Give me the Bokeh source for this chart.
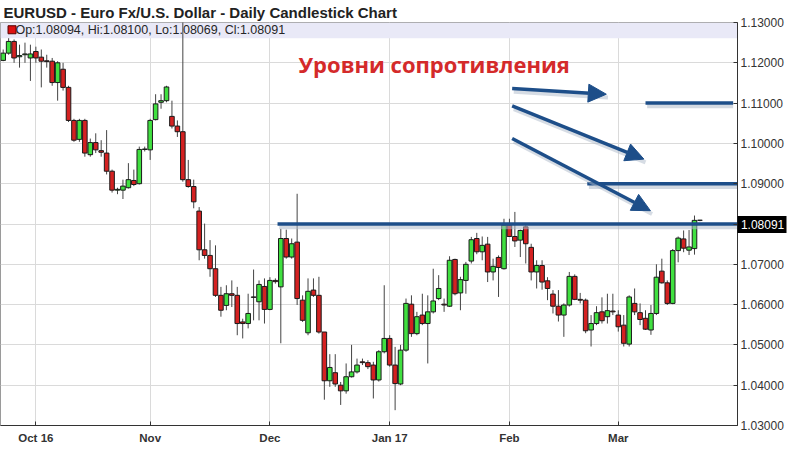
from bokeh.plotting import figure
from bokeh.models import (Range1d, FixedTicker, BoxAnnotation, Label, Arrow,
                          NormalHead, NumeralTickFormatter)
from bokeh.embed import file_html
from bokeh.resources import INLINE

# ---------------- data (EUR/USD daily candles) -------------
opens = [1.1206, 1.1224, 1.1253, 1.1215, 1.1220, 1.1212, 1.1228, 1.1214, 1.1205, 1.1204,
         1.1151, 1.1184, 1.1139, 1.1057, 1.1010, 1.1057, 1.0972, 1.1002, 1.0982, 1.0976,
         1.0931, 1.0884, 1.0884, 1.0890, 1.0908, 1.0900, 1.0985, 1.0984, 1.1059, 1.1102,
         1.1106, 1.1067, 1.1043, 1.1029, 1.0910, 1.0893, 1.0832, 1.0736, 1.0722, 1.0689,
         1.0623, 1.0598, 1.0627, 1.0623, 1.0557, 1.0553, 1.0619, 1.0607, 1.0645, 1.0588,
         1.0660, 1.0644, 1.0764, 1.0718, 1.0755, 1.0611, 1.0530, 1.0636, 1.0623, 1.0532,
         1.0411, 1.0431, 1.0400, 1.0386, 1.0421, 1.0433, 1.0458, 1.0456, 1.0450, 1.0413,
         1.0483, 1.0516, 1.0450, 1.0403, 1.0487, 1.0601, 1.0528, 1.0574, 1.0553, 1.0582,
         1.0615, 1.0601, 1.0596, 1.0712, 1.0629, 1.0660, 1.0708, 1.0764, 1.0731, 1.0750,
         1.0681, 1.0717, 1.0689, 1.0797, 1.0769, 1.0760, 1.0793, 1.0742, 1.0681, 1.0697,
         1.0659, 1.0626, 1.0596, 1.0574, 1.0599, 1.0670, 1.0613, 1.0611, 1.0537, 1.0553,
         1.0582, 1.0570, 1.0584, 1.0574, 1.0549, 1.0502, 1.0603, 1.0580, 1.0566, 1.0537,
         1.0578, 1.0683, 1.0654, 1.0603, 1.0734, 1.0763, 1.0735, 1.0739, 1.08094]
highs = [1.1233, 1.1261, 1.1258, 1.1245, 1.1250, 1.1245, 1.1240, 1.1233, 1.1220, 1.1212,
         1.1204, 1.1200, 1.1143, 1.1061, 1.1061, 1.1061, 1.1012, 1.1025, 1.1008, 1.1033,
         1.0935, 1.0890, 1.0910, 1.0951, 1.0935, 1.0992, 1.0992, 1.1061, 1.1122, 1.1122,
         1.1143, 1.1106, 1.1057, 1.1330, 1.0959, 1.0910, 1.0842, 1.0801, 1.0760, 1.0747,
         1.0644, 1.0648, 1.0660, 1.0644, 1.0565, 1.0627, 1.0687, 1.0660, 1.0665, 1.0668,
         1.0665, 1.0788, 1.0786, 1.0764, 1.0875, 1.0623, 1.0665, 1.0665, 1.0669, 1.0532,
         1.0477, 1.0477, 1.0408, 1.0454, 1.0500, 1.0466, 1.0466, 1.0462, 1.0458, 1.0487,
         1.0648, 1.0524, 1.0495, 1.0500, 1.0615, 1.0623, 1.0582, 1.0627, 1.0623, 1.0689,
         1.0673, 1.0615, 1.0720, 1.0714, 1.0669, 1.0706, 1.0768, 1.0778, 1.0769, 1.0768,
         1.0714, 1.0722, 1.0813, 1.0813, 1.0830, 1.0786, 1.0797, 1.0751, 1.0710, 1.0710,
         1.0668, 1.0636, 1.0636, 1.0603, 1.0681, 1.0675, 1.0629, 1.0615, 1.0574, 1.0596,
         1.0618, 1.0627, 1.0627, 1.0586, 1.0574, 1.0623, 1.0640, 1.0603, 1.0586, 1.0599,
         1.0700, 1.0714, 1.0660, 1.0738, 1.0769, 1.0784, 1.0785, 1.0821, 1.08100]
lows = [1.1204, 1.1220, 1.1200, 1.1188, 1.1200, 1.1155, 1.1200, 1.1139, 1.1188, 1.1143,
        1.1106, 1.1131, 1.1053, 1.1004, 1.1004, 1.0967, 1.0967, 1.0976, 1.0967, 1.0923,
        1.0878, 1.0874, 1.0862, 1.0888, 1.0894, 1.0898, 1.0980, 1.0959, 1.1057, 1.1086,
        1.1102, 1.1037, 1.1016, 1.0905, 1.0890, 1.0839, 1.0710, 1.0714, 1.0669, 1.0619,
        1.0570, 1.0586, 1.0594, 1.0524, 1.0516, 1.0541, 1.0561, 1.0561, 1.0553, 1.0586,
        1.0652, 1.0504, 1.0714, 1.0714, 1.0599, 1.0557, 1.0524, 1.0619, 1.0528, 1.0364,
        1.0396, 1.0396, 1.0351, 1.0379, 1.0419, 1.0429, 1.0450, 1.0440, 1.0367, 1.0409,
        1.0479, 1.0446, 1.0338, 1.0400, 1.0483, 1.0520, 1.0524, 1.0549, 1.0454, 1.0578,
        1.0611, 1.0582, 1.0594, 1.0623, 1.0586, 1.0627, 1.0702, 1.0725, 1.0710, 1.0656,
        1.0660, 1.0619, 1.0687, 1.0768, 1.0743, 1.0718, 1.0702, 1.0660, 1.0640, 1.0637,
        1.0611, 1.0578, 1.0558, 1.0520, 1.0595, 1.0611, 1.0603, 1.0529, 1.0496, 1.0549,
        1.0553, 1.0553, 1.0574, 1.0533, 1.0496, 1.0496, 1.0574, 1.0549, 1.0537, 1.0525,
        1.0574, 1.0652, 1.0599, 1.0601, 1.0705, 1.0730, 1.0723, 1.0724, 1.08069]
closes = [1.1224, 1.1253, 1.1212, 1.1218, 1.1222, 1.1222, 1.1212, 1.1204, 1.1203, 1.1151,
          1.1200, 1.1139, 1.1057, 1.1008, 1.1057, 1.0976, 1.1002, 1.0984, 1.0978, 1.0931,
          1.0884, 1.0886, 1.0894, 1.0910, 1.0898, 1.0985, 1.0986, 1.1057, 1.1098, 1.1106,
          1.1140, 1.1043, 1.1029, 1.0910, 1.0893, 1.0855, 1.0736, 1.0722, 1.0689, 1.0623,
          1.0586, 1.0627, 1.0623, 1.0553, 1.0553, 1.0578, 1.0618, 1.0650, 1.0588, 1.0660,
          1.0657, 1.0764, 1.0718, 1.0751, 1.0615, 1.0561, 1.0633, 1.0623, 1.0532, 1.0411,
          1.0444, 1.0403, 1.0386, 1.0421, 1.0433, 1.0450, 1.0456, 1.0446, 1.0413, 1.0483,
          1.0516, 1.0450, 1.0404, 1.0487, 1.0603, 1.0528, 1.0570, 1.0553, 1.0582, 1.0609,
          1.0640, 1.0599, 1.0710, 1.0627, 1.0662, 1.0700, 1.0761, 1.0731, 1.0747, 1.0681,
          1.0695, 1.0692, 1.0797, 1.0769, 1.0758, 1.0784, 1.0751, 1.0681, 1.0697, 1.0656,
          1.0640, 1.0596, 1.0574, 1.0599, 1.0670, 1.0613, 1.0611, 1.0535, 1.0553, 1.0580,
          1.0560, 1.0585, 1.0582, 1.0545, 1.0504, 1.0619, 1.0582, 1.0563, 1.0539, 1.0578,
          1.0668, 1.0654, 1.0603, 1.0734, 1.0765, 1.0740, 1.0743, 1.0809, 1.08091]

month_ticks = [6, 27, 49, 71, 93, 113]
month_labels = ["Oct 16", "Nov", "Dec", "Jan 17", "Feb", "Mar"]
price_ticks = [1.03, 1.04, 1.05, 1.06, 1.07, 1.08, 1.09, 1.10, 1.11, 1.12, 1.13]
last_price = 1.08091
title_text = "EURUSD - Euro Fx/U.S. Dollar - Daily Candlestick Chart"
info_text = "Op:1.08094, Hi:1.08100, Lo:1.08069, Cl:1.08091"
note_text = "Уровни сопротивления"

# resistance levels (price) and their horizontal extent (candle index)
levels = [1.08, 1.09, 1.11]
level_from = [50.4, 107.3, 118.0]
level_to = [134.9, 134.9, 134.1]
# arrows (candle index / price)
arrow_x0 = [93.5, 93.5, 93.5]
arrow_y0 = [1.1136, 1.1093, 1.1012]
arrow_x1 = [110.8, 117.7, 118.9]
arrow_y1 = [1.1122, 1.0961, 1.0833]

# ---------------- figure -----------------------------------------------------------
idx = list(range(len(opens)))
p = figure(width=793, height=450, output_backend="svg", toolbar_location=None,
           x_range=Range1d(-0.496, 134.9), y_range=Range1d(1.03, 1.13),
           y_axis_location="right", title=title_text,
           min_border_left=0, min_border_top=21, min_border_right=56, min_border_bottom=25)
p.background_fill_color = "white"
p.border_fill_color = "white"
p.outline_line_color = "#9a9a9a"

p.title.text_font = "Liberation Sans"
p.title.text_font_size = "15px"
p.title.text_font_style = "bold"
p.title.text_color = "#222222"
p.title.align = "left"
p.title.offset = 3
p.title.standoff = 3

p.xaxis.ticker = FixedTicker(ticks=month_ticks)
p.xaxis.major_label_overrides = {t: l for t, l in zip(month_ticks, month_labels)}
# the last-price marker box is drawn as a long, thick minor tick at the centre level
p.yaxis.ticker = FixedTicker(ticks=price_ticks, minor_ticks=[1.08])
p.yaxis.formatter = NumeralTickFormatter(format="0.00000")
p.yaxis.major_label_overrides = {1.08: ""}
for ax in (p.xaxis[0], p.yaxis[0]):
    ax.axis_line_color = "#333333"
    ax.major_tick_line_color = "#333333"
    ax.major_tick_in = 4
    ax.major_tick_out = 0
    ax.major_label_text_color = "#333333"
    ax.major_label_text_font = "Liberation Sans"
p.xaxis.minor_tick_line_color = None
p.yaxis.minor_tick_line_color = "black"
p.yaxis.minor_tick_line_width = 17
p.yaxis.minor_tick_line_cap = "butt"
p.yaxis.minor_tick_in = 0
p.yaxis.minor_tick_out = 49
p.yaxis.major_label_text_font_size = "12px"
p.yaxis.major_label_standoff = -46
# axis label sits at the centre of the axis = the last price level
p.yaxis.axis_label = f"{last_price:.5f}"
p.yaxis.axis_label_orientation = "horizontal"
p.yaxis.axis_label_standoff = -46
p.yaxis.axis_label_text_color = "white"
p.yaxis.axis_label_text_font = "Liberation Sans"
p.yaxis.axis_label_text_font_size = "12px"
p.yaxis.axis_label_text_font_style = "normal"
p.xaxis.major_label_text_font_size = "11.5px"
p.xaxis.major_label_text_font_style = "bold"
p.xaxis.major_label_standoff = 6
p.xgrid.grid_line_color = "#dadada"
p.ygrid.grid_line_color = "#dadada"

# info bar
p.add_layout(BoxAnnotation(bottom=1.1261, fill_color="#e9e9f7", fill_alpha=1.0,
                           line_color=None, level="underlay"))

# candles
green = "#40e040"
red = "#d42121"
colors = [green if c >= o else red for o, c in zip(opens, closes)]
tops = [max(o, c) for o, c in zip(opens, closes)]
bottoms = [min(o, c) for o, c in zip(opens, closes)]
p.segment(x0=idx, y0=lows, x1=idx, y1=highs, line_color="#444444", line_width=1)
p.vbar(x=idx, width=0.84, top=tops, bottom=bottoms, fill_color=colors,
       line_color="#1a1a1a", line_width=1)

# resistance lines with soft shadow
navy = "#1d4e89"
p.segment(x0=[a + 0.3 for a in level_from], y0=[l - 0.0008 for l in levels],
          x1=level_to, y1=[l - 0.0008 for l in levels],
          line_color="#aeb9c9", line_alpha=0.55, line_width=4)
p.segment(x0=level_from, y0=levels, x1=level_to, y1=levels, line_color=navy, line_width=3.5)
p.segment(x0=[a + 0.3 for a in arrow_x0], y0=[a - 0.0008 for a in arrow_y0],
          x1=[a + 0.3 for a in arrow_x1], y1=[a - 0.0008 for a in arrow_y1],
          line_color="#aeb9c9", line_alpha=0.5, line_width=4)
for xs, ys, xe, ye in zip(arrow_x0, arrow_y0, arrow_x1, arrow_y1):
    p.add_layout(Arrow(end=NormalHead(size=18, fill_color=navy, line_color=navy),
                       x_start=xs, y_start=ys, x_end=xe, y_end=ye,
                       line_color=navy, line_width=3.5))

# texts inside the chart
p.scatter(x=[1.62], y=[1.1282], marker="square", size=8, fill_color="#dd1111",
          line_color="#550000")
p.add_layout(Label(x=2.25, y=1.1282, text=info_text, text_font="Liberation Sans",
                   text_font_size="12.5px", text_color="#262626", text_baseline="middle"))
p.add_layout(Label(x=54.25, y=1.1197, text=note_text, text_font="Open Sans",
                   text_font_size="22px", text_font_style="bold", text_color="#d42a2a",
                   text_baseline="middle"))

open("out.html", "w").write(file_html(p, INLINE))
